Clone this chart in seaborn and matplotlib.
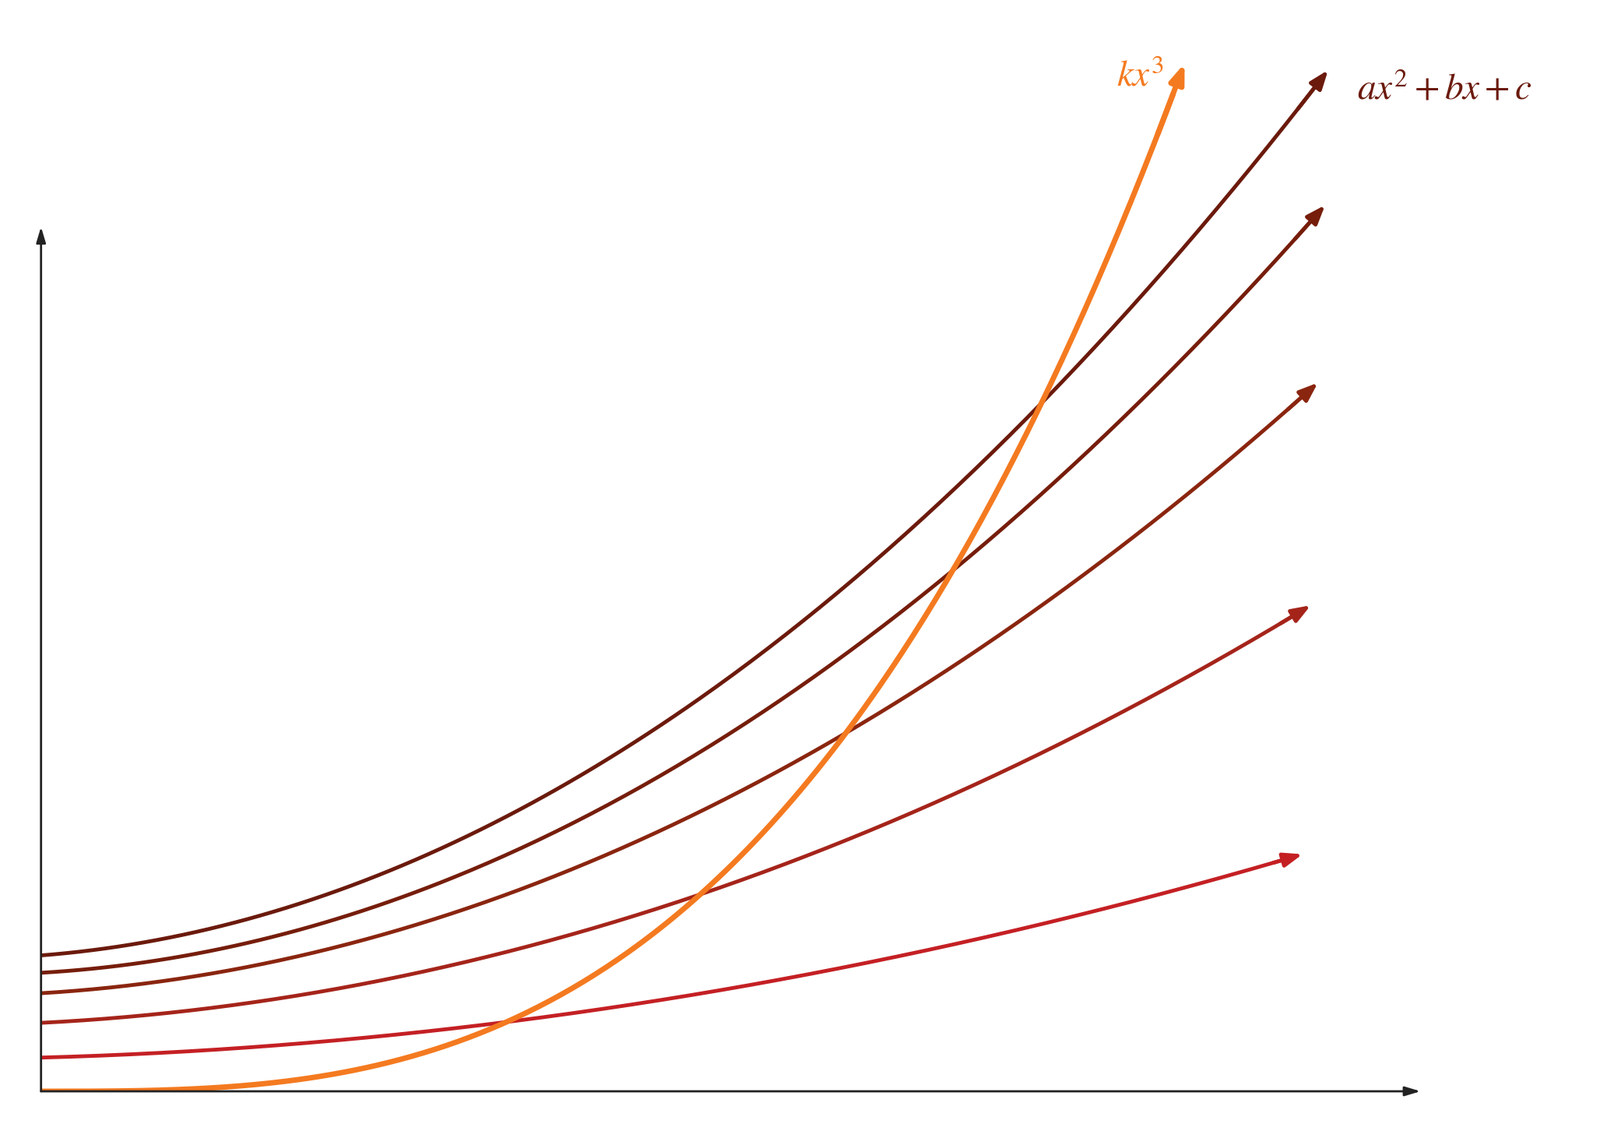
import numpy as np
import matplotlib
matplotlib.use("Agg")
import matplotlib.pyplot as plt
import seaborn as sns

sns.set_theme(style="white")
plt.rcParams['mathtext.fontset'] = 'stix'
plt.rcParams['font.family'] = ['DejaVu Sans']

# points (x, y) for each quadratic curve
quad_x = [0, 740, 1250]
quad_y1 = [133, 458, 993]
quad_y2 = [116, 396, 865]
quad_y3 = [96, 325, 698]
quad_y4 = [67, 228, 483]
quad_y5 = [33, 113, 238]
quad_xend = [1255, 1252, 1245, 1238, 1230]
quad_colors = ["#6b1a0c", "#761d0b", "#8a250f", "#a5241a", "#c42024"]
cubic_pts_x = [0, 740, 1115]
cubic_pts_y = [0, 294, 1006]
cubic_color = "#f47a20"

fig = plt.figure(figsize=(20.55, 14.43), dpi=100)
ax = fig.add_axes([40/1560, 1-1068/1100, 1345/1560, 1010/1100])
ax.set_xlim(0, 1345)
ax.set_ylim(0, 1010)
ax.axis("off")

def arrow_line(xs, ys, color, lw):
    sns.lineplot(x=xs[:-3], y=ys[:-3], ax=ax, color=color, lw=lw, sort=False, estimator=None)
    ax.annotate("", xy=(xs[-1], ys[-1]), xytext=(xs[-8], ys[-8]),
                arrowprops=dict(arrowstyle="-|>,head_length=1.2,head_width=0.45", color=color, lw=lw,
                                shrinkA=0, shrinkB=0))

for ys, xe, c in zip([quad_y1, quad_y2, quad_y3, quad_y4, quad_y5], quad_xend, quad_colors):
    p = np.polyfit(quad_x, ys, 2)
    xs = np.linspace(0, xe, 300)
    arrow_line(xs, np.polyval(p, xs), c, 3.5)

k = np.sum(np.array(cubic_pts_y) * np.array(cubic_pts_x)**3) / np.sum(np.array(cubic_pts_x, float)**6)
xs = np.linspace(0, cubic_pts_x[-1], 300)
arrow_line(xs, k * xs**3, cubic_color, 5)

# axes arrows
ax.annotate("", xy=(1345, 0), xytext=(0, 0),
            arrowprops=dict(arrowstyle="-|>,head_length=1,head_width=0.3", color="#222222", lw=2, shrinkA=0, shrinkB=0))
ax.annotate("", xy=(0, 846), xytext=(0, 0),
            arrowprops=dict(arrowstyle="-|>,head_length=1,head_width=0.3", color="#222222", lw=2, shrinkA=0, shrinkB=0))

ax.text(1095, 993, "$kx^3$", color=cubic_color, fontsize=34, ha="right", va="center")
ax.text(1283, 980, "$ax^2+bx+c$", color=quad_colors[0], fontsize=34, ha="left", va="center")

fig.savefig("out.png", dpi=100)
